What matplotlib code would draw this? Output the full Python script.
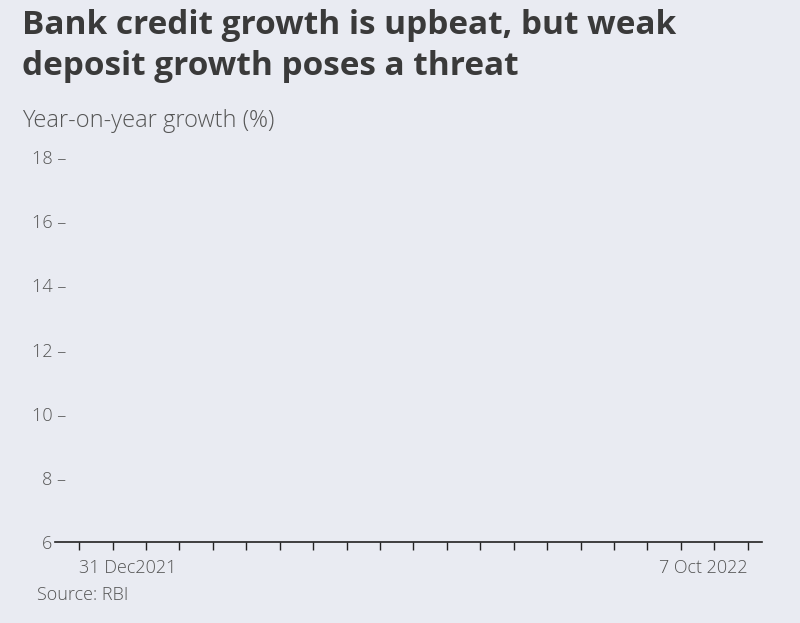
import matplotlib
matplotlib.use("Agg")
import matplotlib.pyplot as plt
import datetime as dt

title = "Bank credit growth is upbeat, but weak\ndeposit growth poses a threat"
subtitle = "Year-on-year growth (%)"
source = "Source: RBI"
yticks = [6, 8, 10, 12, 14, 16, 18]
start = dt.date(2021, 12, 31)
end = dt.date(2022, 10, 7)
xticks = [start + dt.timedelta(days=14 * i) for i in range(21)]
xlabels = {start: "31 Dec2021", end: "7 Oct 2022"}

bg = "#e9ebf2"
plt.rcParams['font.family'] = ['Open Sans', 'DejaVu Sans']
fig = plt.figure(figsize=(8, 6.23), dpi=100, facecolor=bg)
ax = fig.add_axes([0.069, 0.130, 0.8835, 0.618], facecolor=bg)
ax.set_ylim(6, 18)
ax.set_xlim(start - dt.timedelta(days=10.8), end + dt.timedelta(days=6.9))
for s in ["top", "right", "left"]:
    ax.spines[s].set_visible(False)
ax.spines["bottom"].set_color("#222222")
ax.spines["bottom"].set_linewidth(1.2)
ax.set_yticks(yticks)
ax.set_yticklabels([f"{v} –" if v != 6 else f"{v}   " for v in yticks])
ax.tick_params(axis="y", length=0, pad=-8, labelsize=13, labelcolor="#555555")
for t in ax.get_yticklabels():
    t.set_fontweight("light")
ax.set_xticks(xticks)
ax.set_xticklabels([xlabels.get(d, "") for d in xticks])
ax.tick_params(axis="x", length=6, width=1, color="#222222", direction="out", labelsize=13, labelcolor="#555555", pad=6)
labs = ax.get_xticklabels()
labs[0].set_ha("left")
labs[-1].set_ha("right")
for t in labs:
    t.set_fontweight("light")

fig.text(0.028, 0.985, title, fontsize=24, fontweight="bold", color="#3a3a3a", va="top", linespacing=1.3)
fig.text(0.028, 0.825, subtitle, fontsize=17, fontweight="light", color="#555555", va="top")
fig.text(0.046, 0.03, source, fontsize=13, fontweight="light", color="#555555", va="bottom")
fig.savefig("out.png", dpi=100, facecolor=bg)
